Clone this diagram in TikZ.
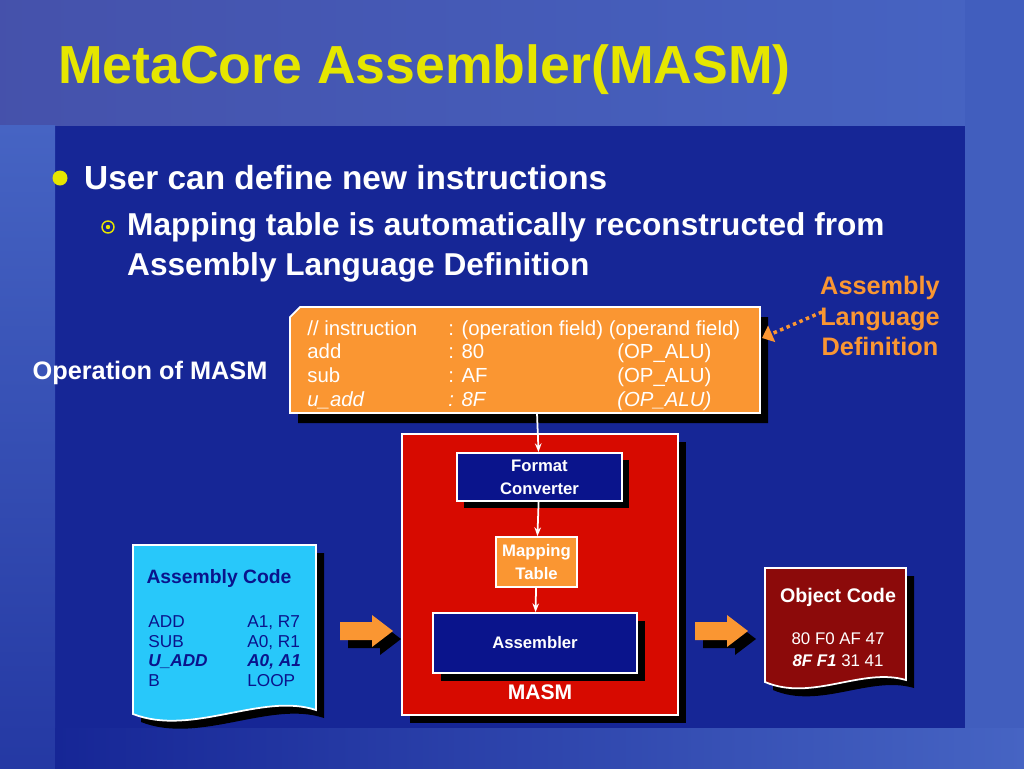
\documentclass[tikz,border=0pt]{standalone}
\usepackage{fontspec}
\setmainfont{Liberation Sans}
\usetikzlibrary{arrows.meta,positioning}
\definecolor{bgblue}{RGB}{22,38,150}
\definecolor{bandblue}{RGB}{70,100,195}
\definecolor{titleyel}{RGB}{230,230,0}
\definecolor{boxorange}{RGB}{250,150,50}
\definecolor{masmred}{RGB}{215,10,0}
\definecolor{navy}{RGB}{10,20,140}
\definecolor{codecyan}{RGB}{40,200,250}
\definecolor{objred}{RGB}{140,10,10}
\tikzset{
  shadowed/.style={draw=white, line width=1pt},
  smallbox/.style={draw=white, line width=1pt, fill=navy, text=white, font=\bfseries\fontsize{9.5}{13}\selectfont, align=center},
  flow/.style={-{Stealth[length=5pt]}, white, line width=1pt},
  blockarrow/.pic={\path[pic actions] (0,-9) -- (32,-9) -- (32,-16) -- (53,0) -- (32,16) -- (32,9) -- (0,9) -- cycle;},
}
\begin{document}
\begin{tikzpicture}[x=0.02cm,y=-0.02cm,font=\bfseries]
  % background
  \fill[bgblue] (0,0) rectangle (1024,768);
  \shade[left color=bgblue!80!white, right color=bandblue] (0,0) rectangle (1024,125);
  \shade[top color=bandblue, bottom color=bgblue!70!bandblue] (0,125) rectangle (55,768);
  \fill[bandblue!90!bgblue] (965,0) rectangle (1024,728);
  \shade[left color=bgblue, right color=bandblue] (55,728) rectangle (1024,768);
  \useasboundingbox (0,0) rectangle (1024,768);
  % title and bullets
  \node (title) [anchor=west, text=titleyel, font=\bfseries\fontsize{30.5}{36}\selectfont] at (52,70) {MetaCore Assembler(MASM)};
  \fill[titleyel] (60,178) circle (7.5);
  \node (bullet1) [anchor=west, text=white, font=\bfseries\fontsize{19}{22}\selectfont] at (78,178) {User can define new instructions};
  \draw[titleyel, line width=0.8pt] (108,227) circle (6);
  \fill[titleyel] (108,227) circle (2.2);
  \node (bullet2) [anchor=north west, text=white, align=left, font=\bfseries\fontsize{18}{22.7}\selectfont] at (121,206) {Mapping table is automatically reconstructed from\\Assembly Language Definition};
  \node (asmdef) [text=boxorange, align=center, font=\bfseries\fontsize{14.4}{17.6}\selectfont] at (880,316) {Assembly\\Language\\Definition};
  \node (opmasm) [text=white, font=\bfseries\fontsize{14.4}{16}\selectfont] at (150,373) {Operation of MASM};
  % definition box
  \fill[black] (308,317) -- (298,327) -- (298,423) -- (768,423) -- (768,317) -- cycle;
  \draw[shadowed, fill=boxorange] (300,307) -- (290,317) -- (290,413) -- (760,413) -- (760,307) -- cycle;
  \coordinate (defbottom) at (537,413);
  \coordinate (defright) at (762,338);
  \node (deftext) [anchor=north west, text=white, font=\fontsize{11.6}{13.6}\selectfont, inner sep=0pt] at (307,318) {%
    \begin{tabular}{@{}p{2.82cm}@{}p{3.38cm}@{}l@{}}
    // instruction & \multicolumn{2}{@{}l@{}}{: (operation field) (operand field)}\\
    add & : 80 & (OP\_ALU)\\
    sub & : AF & (OP\_ALU)\\
    \itshape u\_add & \itshape : 8F & \itshape (OP\_ALU)
    \end{tabular}};
  \draw[boxorange, line width=2pt, dotted, -{Triangle[length=6pt]}] (822,312) -- (defright);
  % MASM box
  \fill[black] (410,442) rectangle (686,723);
  \draw[shadowed, fill=masmred] (402,434) rectangle (678,715);
  \node (masm) [text=white, font=\bfseries\fontsize{12}{13}\selectfont] at (540,692) {MASM};
  \fill[black] (464,460) rectangle (629,508);
  \node (format) [smallbox, minimum width=3.3cm, minimum height=0.96cm] at (539.5,477) {Format\\Converter};
  \node (mapping) [smallbox, fill=boxorange, minimum width=1.58cm, minimum height=1cm] at (536.5,562) {Mapping\\Table};
  \fill[black] (441,621) rectangle (645,681);
  \node (assembler) [smallbox, minimum width=4.08cm, minimum height=1.2cm] at (535,643) {Assembler};
  \draw[flow] (defbottom) -- (format);
  \draw[flow] (format) -- (mapping);
  \draw[flow] (mapping) -- (assembler);
  % assembly code
  \fill[black] (141,553) -- (324,553) -- (324,718) .. controls (270,700) and (200,745) .. (141,722) -- cycle;
  \draw[shadowed, fill=codecyan] (133,545) -- (316,545) -- (316,710) .. controls (262,692) and (192,737) .. (133,714) -- cycle;
  \node (asmcode) [text=navy, font=\bfseries\fontsize{11}{13}\selectfont] at (219,578) {Assembly Code};
  \node (asmtext) [anchor=north west, text=navy, font=\mdseries\fontsize{9.8}{11.3}\selectfont, inner sep=0pt] at (148,613) {%
    \begin{tabular}{@{}p{1.98cm}@{}l@{}}
    ADD & A1, R7\\
    SUB & A0, R1\\
    \bfseries\itshape U\_ADD & \bfseries\itshape A0, A1\\
    B & LOOP
    \end{tabular}};
  % object code
  \fill[black] (773,576) -- (914,576) -- (914,688) .. controls (870,675) and (820,710) .. (773,690) -- cycle;
  \draw[shadowed, fill=objred] (765,568) -- (906,568) -- (906,680) .. controls (862,667) and (812,702) .. (765,682) -- cycle;
  \node (objcode) [text=white, font=\bfseries\fontsize{11.2}{13}\selectfont] at (838,597) {Object Code};
  \node (objtext) [text=white, align=center, font=\mdseries\fontsize{9.6}{12.5}\selectfont] at (838,650) {80 F0 AF 47\\\textbf{\itshape 8F F1} 31 41};
  % block arrows
  \pic[fill=black] at (348,639) {blockarrow};
  \pic[fill=boxorange] at (340,631) {blockarrow};
  \pic[fill=black] at (703,639) {blockarrow};
  \pic[fill=boxorange] at (695,631) {blockarrow};
\end{tikzpicture}
\end{document}
